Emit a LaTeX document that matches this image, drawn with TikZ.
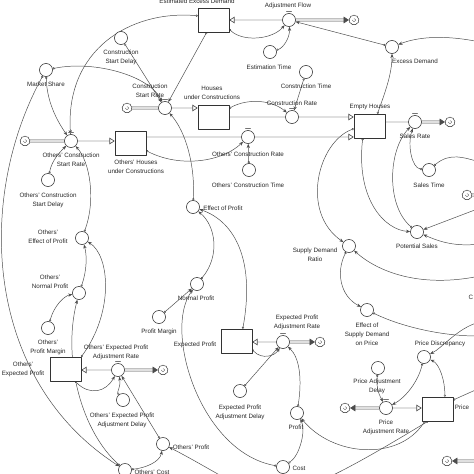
\documentclass[tikz,border=0pt]{standalone}
\usepackage{fontspec}
\setmainfont{Liberation Sans}
\usetikzlibrary{arrows.meta,shapes.symbols,backgrounds}
\begin{document}
\begin{tikzpicture}[x=0.0253cm,y=-0.0253cm,line join=round,line cap=round,
  font=\fontsize{4.5}{6.4}\selectfont,
  aux/.style={circle,draw=black!80,fill=white,line width=0.4pt,inner sep=0pt,minimum size=0.33cm},
  valve/.style={aux},
  stock/.style={rectangle,draw=black!80,fill=white,line width=0.4pt,inner sep=0pt,minimum width=0.785cm,minimum height=0.607cm},
  sink/.style={cloud,cloud puffs=9,cloud puff arc=110,aspect=1,draw=black!80,fill=white,line width=0.35pt,inner sep=0pt,minimum width=0.25cm,minimum height=0.25cm},
  lbl/.style={align=center,inner sep=0pt,text=black!85},
  infl/.style={draw=black!70,line width=0.35pt,{Circle[open,length=1.6pt,width=1.6pt]}-{Stealth[length=3pt,width=2.3pt]}},
  pipe/.style={draw=black!70,line width=0.45pt,double=black!12,double distance=1.2pt},
  into/.style={pipe,-{Triangle[open,fill=white,length=3.8pt,width=4.8pt]}},
  drain/.style={pipe,-{Triangle[length=3.8pt,width=4.8pt]}}]
\path[use as bounding box] (0,0) rectangle (474,474);
\node[stock] (eed) at (213.5,20) {};
\node[stock] (huc) at (213.5,117) {};
\node[stock] (ohuc) at (130.5,143) {};
\node[stock] (eh) at (369.5,126) {};
\node[stock] (ep) at (236.5,341) {};
\node[stock] (oep) at (65.5,369) {};
\node[stock] (price) at (437.5,409) {};
\node[valve] (af) at (289,20) {};
\node[valve] (csr) at (165,108) {};
\node[valve] (cr) at (292,117) {};
\node[valve] (ocsr) at (71,141) {};
\node[valve] (ocr) at (248,137) {};
\node[valve] (sr) at (415,122) {};
\node[valve] (epar) at (283,342) {};
\node[valve] (oepar) at (118,370) {};
\node[valve] (par) at (386,408) {};
\foreach \v in {af,csr,cr,ocsr,ocr,sr,epar,oepar,par}
  \draw[black!55,line width=0.6pt] (\v.north) ++(-2.5,-1.5) -- ++(5,0);
\node[aux] (ms) at (46,70) {};
\node[aux] (csd) at (121,38) {};
\node[aux] (et) at (270,52) {};
\node[aux] (ed) at (392,47) {};
\node[aux] (ct) at (306,72) {};
\node[aux] (oct) at (249,170) {};
\node[aux] (st) at (429,170) {};
\node[aux] (ps) at (417,232) {};
\node[aux] (sdr) at (349,246) {};
\node[aux] (esdp) at (367,310) {};
\node[aux] (pd) at (424,357) {};
\node[aux] (pad) at (378,368) {};
\node[aux] (prof) at (297,413) {};
\node[aux] (cost) at (283,467) {};
\node[aux] (epad) at (240,391) {};
\node[aux] (eop) at (193,207) {};
\node[aux] (np) at (197,284) {};
\node[aux] (pm) at (159,317) {};
\node[aux] (ocsd) at (48,180) {};
\node[aux] (oeop) at (82,238) {};
\node[aux] (onp) at (79,293) {};
\node[aux] (opm) at (48,328) {};
\node[aux] (oepad) at (123,400) {};
\node[aux] (oprof) at (163,444) {};
\node[aux] (ocost) at (125,470) {};
\node[sink] (cl1) at (354,20) {};
\node[sink] (cl2) at (127,108) {};
\node[sink] (cl3) at (25,141) {};
\node[sink] (cl4) at (450,122) {};
\node[sink] (cl5) at (467,195) {};
\node[sink] (cl6) at (320,342) {};
\node[sink] (cl7) at (163,370) {};
\node[sink] (cl8) at (345,408) {};
\node[sink] (cl9) at (447,461) {};
\foreach \c in {cl1,cl2,cl3,cl4,cl5,cl6,cl7,cl8,cl9}
  \draw[black!60,line width=0.3pt] (\c) ++(-1.8,0) arc (180:0:1.8) ++(0,0) arc (0:-120:1.2);
\path (480,42) coordinate (rim1) (480,162) coordinate (rim2)
  (480,208) coordinate (rim3) (480,244) coordinate (rim4)
  (480,195) coordinate (rim5) (480,276) coordinate (rim6)
  (480,336) coordinate (rim7) (480,322) coordinate (rim8)
  (480,461) coordinate (rim9) (480,388) coordinate (rim10);
\node[lbl] (eedl) at (197,1.5) {Estimated Excess Demand};
\node[lbl] (afl) at (288,6) {Adjustment Flow};
\node[lbl] (etl) at (269,67) {Estimation Time};
\node[lbl] (edl) at (415,61) {Excess Demand};
\node[lbl] (csdl) at (121,57) {Construction\\Start Delay};
\node[lbl] (csrl) at (150,91) {Construction\\Start Rate};
\node[lbl] (hucl) at (212,93) {Houses\\under Constructions};
\node[lbl] (ctl) at (306,86) {Construction Time};
\node[lbl] (crl) at (292,103) {Construction Rate};
\node[lbl] (ehl) at (370,107) {Empty Houses};
\node[lbl] (srl) at (415,136) {Sales Rate};
\node[lbl] (stl) at (429,185) {Sales Time};
\node[lbl] (psl) at (417,246) {Potential Sales};
\node[lbl] (sdrl) at (315,255) {Supply Demand\\Ratio};
\node[lbl] (esdpl) at (367,334) {Effect of\\Supply Demand\\on Price};
\node[lbl] (pdl) at (440,344) {Price Discrepancy};
\node[lbl] (padl) at (377,386) {Price Adjustment\\Delay};
\node[lbl] (parl) at (386,427) {Price\\Adjustment Rate};
\node[lbl] (pricel) at (462,407) {Price};
\node[lbl] (profl) at (296,427) {Profit};
\node[lbl] (costl) at (299,468) {Cost};
\node[lbl] (epadl) at (240,412) {Expected Profit\\Adjustment Delay};
\node[lbl] (eparl) at (297,322) {Expected Profit\\Adjustment Rate};
\node[lbl] (epl) at (195,345) {Expected Profit};
\node[lbl] (eopl) at (223,208) {Effect of Profit};
\node[lbl] (npl) at (196,298) {Normal Profit};
\node[lbl] (pml) at (159,332) {Profit Margin};
\node[lbl] (octl) at (248,185) {Others' Construction Time};
\node[lbl] (ocrl) at (248,154) {Others' Construction Rate};
\node[lbl] (ohucl) at (136,167) {Others' Houses\\under Constructions};
\node[lbl] (msl) at (46,84) {Market Share};
\node[lbl] (ocsrl) at (71,160) {Others' Construction\\Start Rate};
\node[lbl] (ocsdl) at (48,200) {Others' Construction\\Start Delay};
\node[lbl] (oeopl) at (48,237) {Others'\\Effect of Profit};
\node[lbl] (onpl) at (50,282) {Others'\\Normal Profit};
\node[lbl] (opml) at (48,347) {Others'\\Profit Margin};
\node[lbl] (oepl) at (23,369) {Others'\\Expected Profit};
\node[lbl] (oeparl) at (116,352) {Others' Expected Profit\\Adjustment Rate};
\node[lbl] (oepadl) at (122,420) {Others' Expected Profit\\Adjustment Delay};
\node[lbl] (oprofl) at (191,447) {Others' Profit};
\node[lbl] (ocostl) at (152,472) {Others' Cost};
\node[lbl] (cl) at (471,297) {C};
\begin{pgfonlayer}{background}
\draw[into] (af) -- (eed.east |- af);
\draw[drain] (af) -- (cl1);
\draw[pipe] (cl2) -- (csr);
\draw[into] (csr) -- (huc.west |- csr);
\draw[pipe] (huc.east |- cr) -- (cr);
\draw[into] (cr) -- (eh.west |- cr);
\draw[pipe] (cl3) -- (ocsr);
\draw[into] (ocsr) -- (ohuc.west |- ocsr);
\draw[pipe] (ohuc.east |- ocr) -- (ocr);
\draw[into] (ocr) -- (eh.west |- ocr);
\draw[pipe] (eh.east |- sr) -- (sr);
\draw[drain] (sr) -- (cl4);
\draw[pipe] (cl5) -- (rim5);
\draw[into] (epar) -- (ep.east |- epar);
\draw[drain] (epar) -- (cl6);
\draw[into] (oepar) -- (oep.east |- oepar);
\draw[drain] (oepar) -- (cl7);
\draw[drain] (par) -- (cl8);
\draw[into] (par) -- (price.west |- par);
\draw[drain] (rim9) -- (cl9);
\draw[infl] (ms) .. controls (95,60) and (150,76) .. (csr);
\draw[infl] (ms) .. controls (47,105) and (60,125) .. (ocsr);
\draw[infl] (ms) .. controls (-25,200) and (-15,380) .. (ocost);
\draw[infl] (csd) -- (csr);
\draw[infl] (eed.241) -- (csr);
\draw[infl] (eed.-30) .. controls (242,42) and (272,40) .. (af);
\draw[infl] (eed.165) .. controls (130,10) and (65,50) .. (ocsr);
\draw[infl] (ed) -- (af);
\draw[infl] (et) .. controls (283,48) and (290,38) .. (af);
\draw[infl] (rim1) .. controls (440,34) and (415,38) .. (ed);
\draw[infl] (eh.57) .. controls (384,95) and (392,75) .. (ed);
\draw[infl] (huc.29) .. controls (248,98) and (272,100) .. (cr);
\draw[infl] (ct) -- (cr);
\draw[infl] (ohuc.-26) .. controls (180,168) and (222,162) .. (ocr);
\draw[infl] (oct) -- (ocr);
\draw[infl] (eh.190) .. controls (318,142) and (300,212) .. (sdr);
\draw[infl] (eh.241) .. controls (356,200) and (385,230) .. (ps);
\draw[infl] (ps) .. controls (386,205) and (388,150) .. (sr);
\draw[infl] (st) .. controls (412,168) and (407,145) .. (sr);
\draw[infl] (st) .. controls (450,152) and (465,158) .. (rim2);
\draw[infl] (rim3) -- (ps);
\draw[infl] (rim4) .. controls (452,247) and (436,240) .. (ps);
\draw[infl] (rim6) .. controls (420,288) and (378,272) .. (sdr);
\draw[infl] (sdr) .. controls (336,272) and (340,296) .. (esdp);
\draw[infl] (esdp) .. controls (400,326) and (440,336) .. (rim7);
\draw[infl] (rim8) .. controls (458,328) and (442,348) .. (pd);
\draw[infl] (pd) .. controls (418,382) and (405,398) .. (par);
\draw[infl] (price.59) .. controls (445,382) and (440,364) .. (pd);
\draw[infl] (pad) .. controls (376,390) and (380,396) .. (par);
\draw[infl] (price.30) -- (rim10);
\draw[infl] (price.224) .. controls (398,462) and (332,456) .. (prof);
\draw[infl] (price.232) .. controls (258,524) and (273,501) .. (oprof);
\draw[infl] (cost) .. controls (300,455) and (306,430) .. (prof);
\draw[infl] (cost) .. controls (200,452) and (163,330) .. (np);
\draw[infl] (prof) .. controls (302,380) and (300,358) .. (epar);
\draw[infl] (epad) -- (epar);
\draw[infl] (ep.-29) .. controls (262,360) and (275,356) .. (epar);
\draw[infl] (ep.63) .. controls (255,262) and (236,222) .. (eop);
\draw[infl] (np) .. controls (220,256) and (216,226) .. (eop);
\draw[infl] (pm) -- (np);
\draw[infl] (eop) .. controls (195,165) and (186,132) .. (csr);
\draw[infl] (ocsd) .. controls (52,160) and (60,152) .. (ocsr);
\draw[infl] (oeop) .. controls (96,200) and (90,162) .. (ocsr);
\draw[infl] (onp) .. controls (87,270) and (87,255) .. (oeop);
\draw[infl] (opm) .. controls (54,306) and (64,296) .. (onp);
\draw[infl] (oep.north east) .. controls (114,312) and (110,256) .. (oeop);
\draw[infl] (ocost) .. controls (82,432) and (62,360) .. (onp);
\draw[infl] (oep.-52) .. controls (90,396) and (106,392) .. (oepar);
\draw[infl] (oepad) .. controls (117,392) and (121,386) .. (oepar);
\draw[infl] (oprof) -- (oepar);
\draw[infl] (ocost) .. controls (145,468) and (160,462) .. (oprof);
\end{pgfonlayer}
\end{tikzpicture}
\end{document}
